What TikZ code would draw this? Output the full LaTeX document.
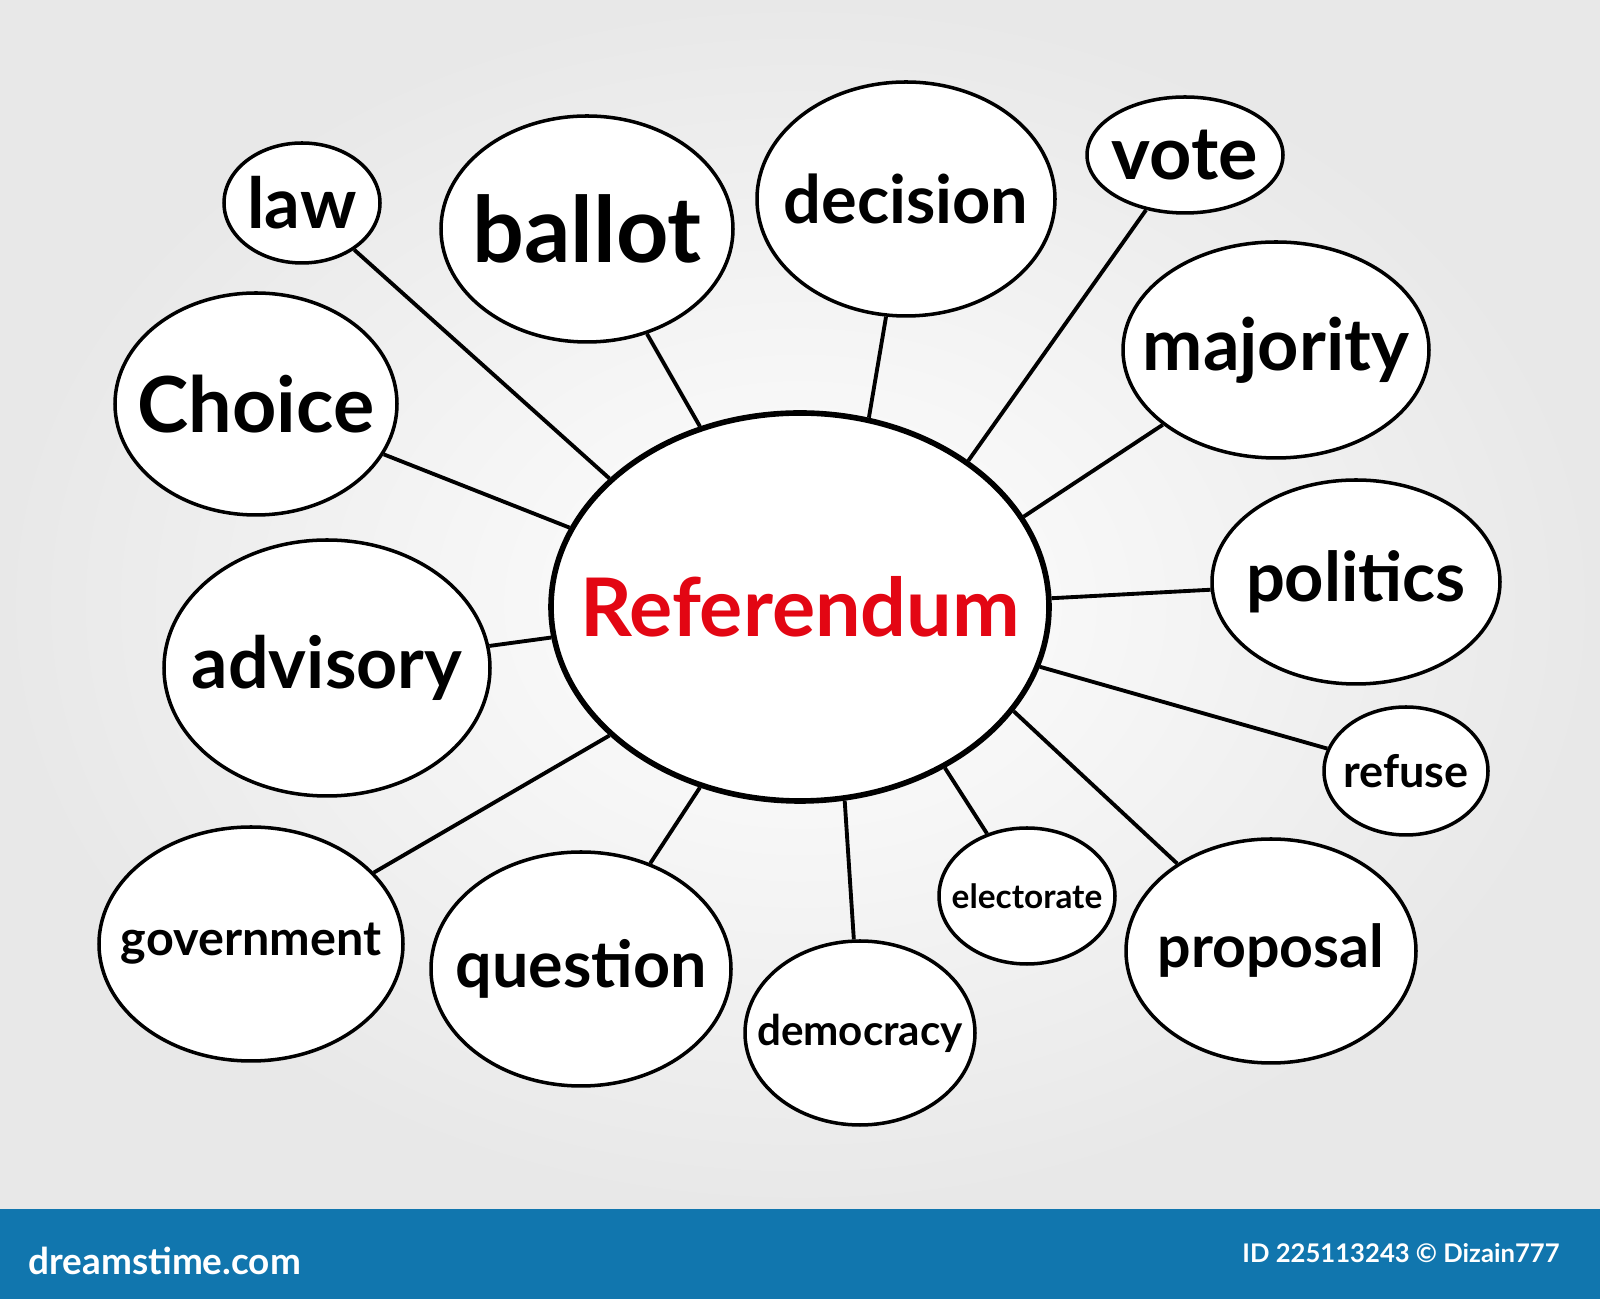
\documentclass[tikz,border=0pt]{standalone}
\usepackage{fontspec}
\setmainfont{Lato}
\usetikzlibrary{shapes.geometric}

\definecolor{barblue}{HTML}{1176AE}
\definecolor{refred}{HTML}{E30613}

\begin{document}
\begin{tikzpicture}[x=0.1mm,y=-0.1mm,
  bub/.style 2 args={ellipse,draw,fill=white,line width=1pt,inner sep=0pt,
    minimum width=#1*0.2mm,minimum height=#2*0.2mm},
  txt/.style={font=\bfseries\fontsize{#1}{#1}\selectfont},
  link/.style={line width=1.1pt}]
  \useasboundingbox (0,0) rectangle (1600,1299);
  % background and bottom bar
  \shade[inner color=white,outer color=black!9] (0,0) rectangle (1600,1209);
  \fill[barblue] (0,1209) rectangle (1600,1299);
  \node[anchor=west,text=white,txt=10.5pt] (site) at (16,1261) {dreamstime.com};
  \node[anchor=east,text=white,txt=7.3pt] (id) at (1572,1253) {ID 225113243 © Dizain777};

  \node[bub={249}{194},line width=1.6pt,label={[txt=23pt,text=refred]center:Referendum}] (ref) at (800,607) {};
  \node[bub={78}{60},label={[txt=20pt]center:law}] (law) at (302,203) {};
  \node[bub={146}{113},label={[txt=26pt]center:ballot}] (ballot) at (587,229) {};
  \node[bub={149}{117},label={[txt=19pt]center:decision}] (decision) at (906,199) {};
  \node[bub={98}{58},label={[txt=21pt]center:vote}] (vote) at (1185,155) {};
  \node[bub={153}{108},label={[txt=20.5pt]center:majority}] (majority) at (1276,350) {};
  \node[bub={144}{102},label={[txt=19.5pt]center:politics}] (politics) at (1356,582) {};
  \node[bub={82}{64},label={[txt=12.8pt]center:refuse}] (refuse) at (1406,771) {};
  \node[bub={145}{112},label={[txt=16.8pt]center:proposal}] (proposal) at (1271,951) {};
  \node[bub={88}{68},label={[txt=9.5pt]center:electorate}] (electorate) at (1027,896) {};
  \node[bub={115}{92},label={[txt=12pt]center:democracy}] (democracy) at (860,1033) {};
  \node[bub={150}{117},label={[txt=18.4pt]center:question}] (question) at (581,969) {};
  \node[bub={152}{117},label={[txt=13.8pt]center:government}] (government) at (251,944) {};
  \node[bub={163}{128},label={[txt=20.4pt]center:advisory}] (advisory) at (327,668) {};
  \node[bub={141}{111},label={[txt=22pt]center:Choice}] (choice) at (256,404) {};

  % spokes meet the centre at these angles
  \foreach \n/\a in {law/146,ballot/119,decision/70,vote/41,majority/22,
    politics/2,refuse/346,proposal/334,electorate/312,democracy/283,
    question/241,government/214,advisory/187,choice/161}
    \draw[link] (\n) -- (ref.\a);
\end{tikzpicture}
\end{document}
